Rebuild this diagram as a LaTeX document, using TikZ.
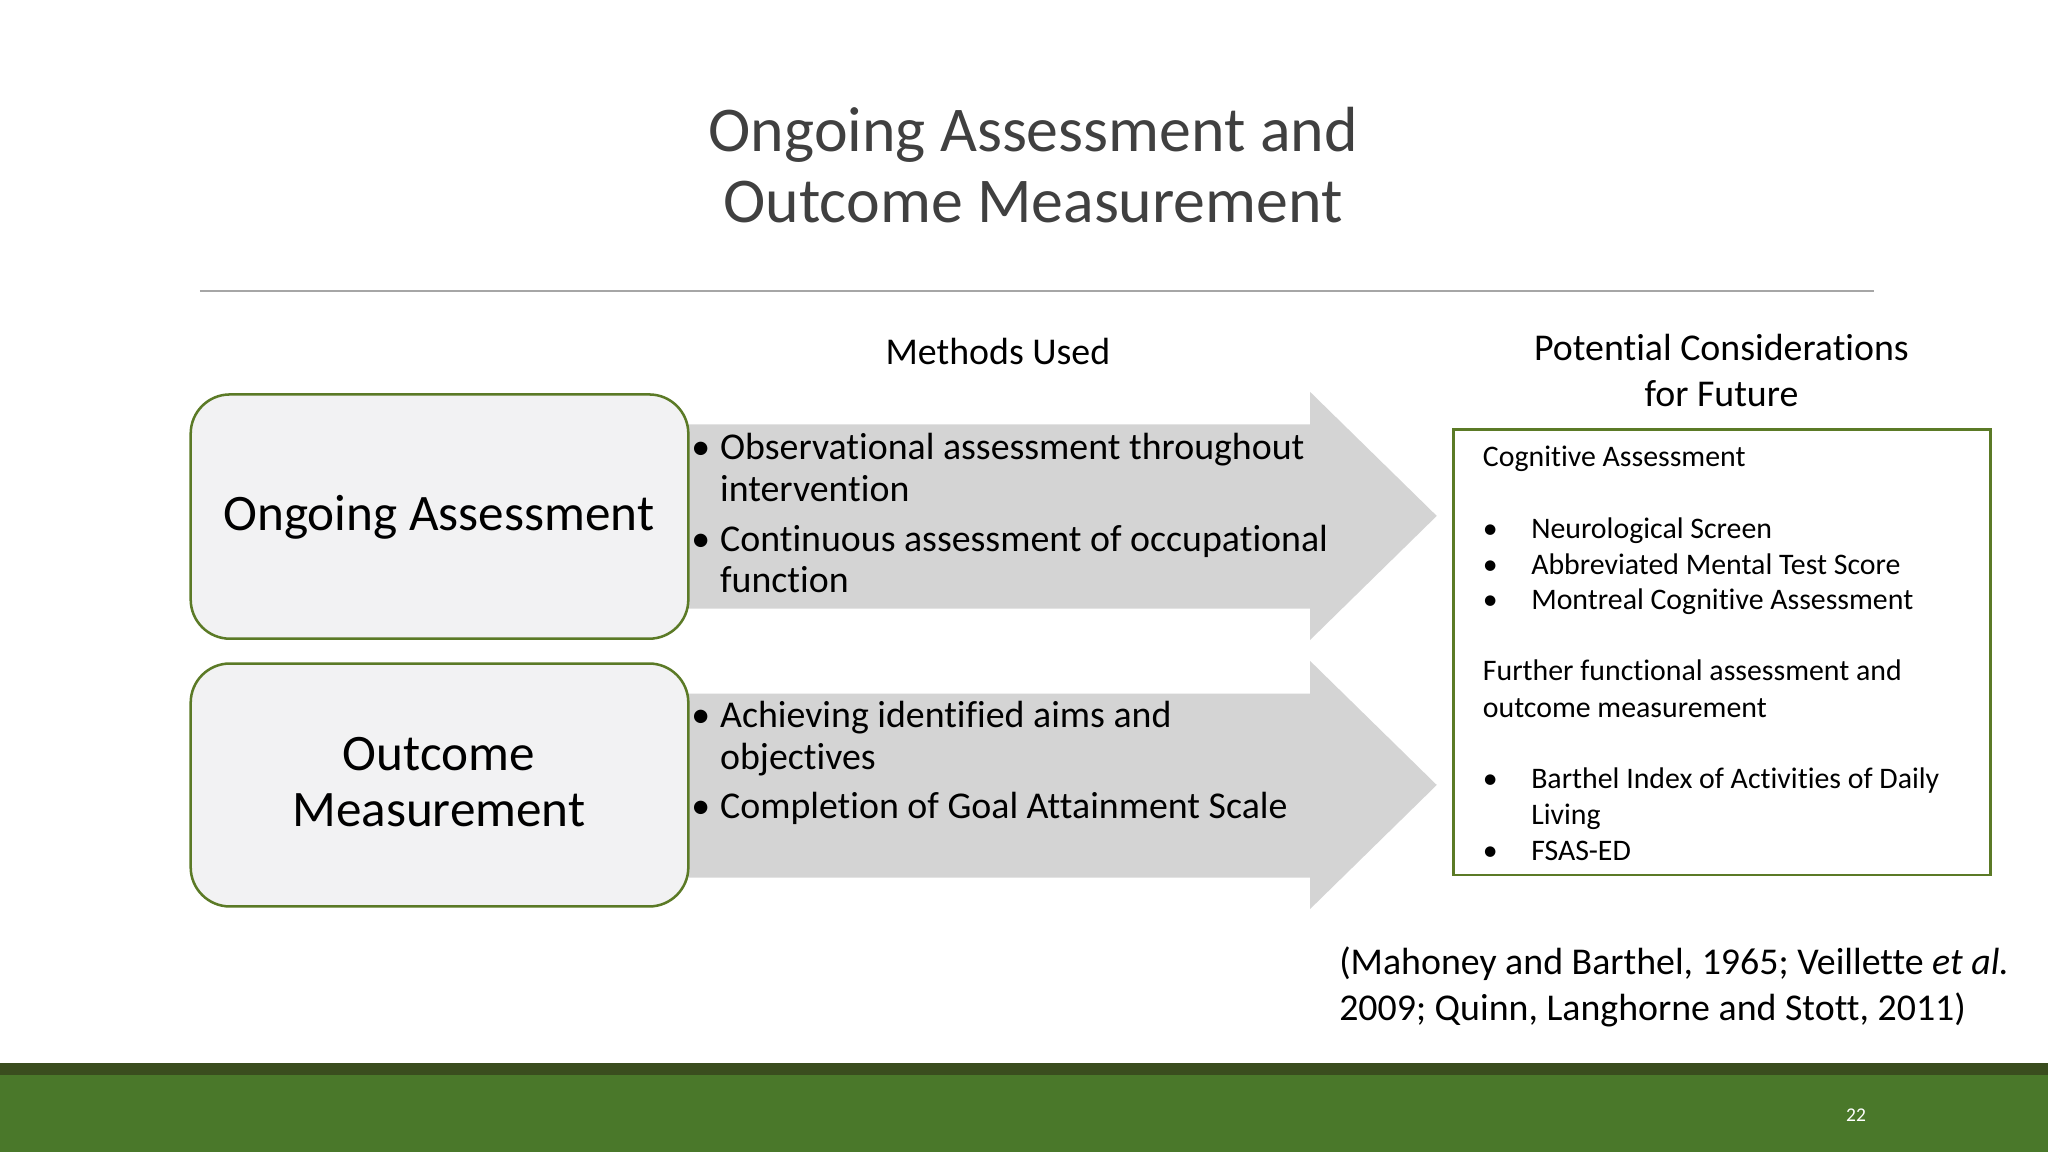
\documentclass[tikz,border=0pt]{standalone}
\usepackage{fontspec}
\setmainfont{Carlito}[Ligatures={NoCommon,NoRare,NoContextual}]
\definecolor{olive}{HTML}{5B7A26}
\definecolor{darkband}{HTML}{3A4D1E}
\definecolor{greenband}{HTML}{4A782A}
\definecolor{arrowgray}{HTML}{D4D4D4}
\definecolor{boxgray}{HTML}{F2F2F3}
\definecolor{titlegray}{HTML}{404040}
\begin{document}
\begin{tikzpicture}[x=0.02cm,y=-0.02cm,
  tl/.style={anchor=base west,inner sep=0pt,font=\fontsize{16.5}{18}\selectfont},
  rl/.style={anchor=base west,inner sep=0pt,font=\fontsize{13}{14}\selectfont},
  cl/.style={anchor=base,inner sep=0pt},
  rbox/.style={draw=olive,line width=1.1pt,fill=boxgray,rounded corners=0.6cm}]
\useasboundingbox (0,0) rectangle (1568,882);
\fill[white] (0,0) rectangle (1568,882);
% title
\node[cl,text=titlegray,font=\fontsize{27.8}{30}\selectfont] (t1) at (791,116) {Ongoing Assessment and};
\node[cl,text=titlegray,font=\fontsize{27.8}{30}\selectfont] (t2) at (791,170) {Outcome Measurement};
\draw[gray!70,line width=0.8pt] (153,223) -- (1435,223);
% headers
\node[cl,font=\fontsize{16.5}{18}\selectfont] (h1) at (764,279) {Methods Used};
\node[cl,font=\fontsize{16.5}{18}\selectfont] (h2) at (1318,276) {Potential Considerations};
\node[cl,font=\fontsize{16.5}{18}\selectfont] (h3) at (1318,311) {for Future};
% arrows
\fill[arrowgray] (527,325) -- (1003,325) -- (1003,300) -- (1100,395) -- (1003,490) -- (1003,466) -- (527,466) -- cycle;
\fill[arrowgray] (527,531) -- (1003,531) -- (1003,506) -- (1100,601) -- (1003,696) -- (1003,672) -- (527,672) -- cycle;
% boxes
\draw[rbox] (146,302) rectangle (527,489);
\draw[rbox] (146,508) rectangle (527,694);
\node[cl,font=\fontsize{22.3}{24}\selectfont] (oa) at (336,406) {Ongoing Assessment};
\node[cl,font=\fontsize{22.3}{24}\selectfont] (om1) at (336,590) {Outcome};
\node[cl,font=\fontsize{22.3}{24}\selectfont] (om2) at (336,633) {Measurement};
% arrow texts
\node[tl] (b1) at (529,352) {•};
\node[tl] (a1) at (551,352) {Observational assessment throughout};
\node[tl] (a2) at (551,384) {intervention};
\node[tl] (b2) at (529,422) {•};
\node[tl] (a3) at (551,422) {Continuous assessment of occupational};
\node[tl] (a4) at (551,454) {function};
\node[tl] (b3) at (529,557) {•};
\node[tl] (a5) at (551,557) {Achieving identified aims and};
\node[tl] (a6) at (551,589) {objectives};
\node[tl] (b4) at (529,627) {•};
\node[tl] (a7) at (551,627) {Completion of Goal Attainment Scale};
% right box
\draw[olive,line width=1.1pt,fill=white] (1113,329) rectangle (1524,670);
\node[rl] (r1) at (1135,357) {Cognitive Assessment};
\node[rl] (rb1) at (1135,412) {•};
\node[rl] (r2) at (1172,412) {Neurological Screen};
\node[rl] (rb2) at (1135,440) {•};
\node[rl] (r3) at (1172,440) {Abbreviated Mental Test Score};
\node[rl] (rb3) at (1135,467) {•};
\node[rl] (r4) at (1172,467) {Montreal Cognitive Assessment};
\node[rl] (r5) at (1135,521) {Further functional assessment and};
\node[rl] (r6) at (1135,549) {outcome measurement};
\node[rl] (rb4) at (1135,604) {•};
\node[rl] (r7) at (1172,604) {Barthel Index of Activities of Daily};
\node[rl] (r8) at (1172,631) {Living};
\node[rl] (rb5) at (1135,659) {•};
\node[rl] (r9) at (1172,659) {FSAS-ED};
% citation
\node[tl] (c1) at (1025,746) {(Mahoney and Barthel, 1965; Veillette \textit{et al.}};
\node[tl] (c2) at (1025,781) {2009; Quinn, Langhorne and Stott, 2011)};
% footer
\fill[darkband] (0,814) rectangle (1568,823);
\fill[greenband] (0,823) rectangle (1568,882);
\node[cl,text=white,font=\fontsize{8.5}{10}\selectfont] (pg) at (1421,859) {22};
\end{tikzpicture}
\end{document}
